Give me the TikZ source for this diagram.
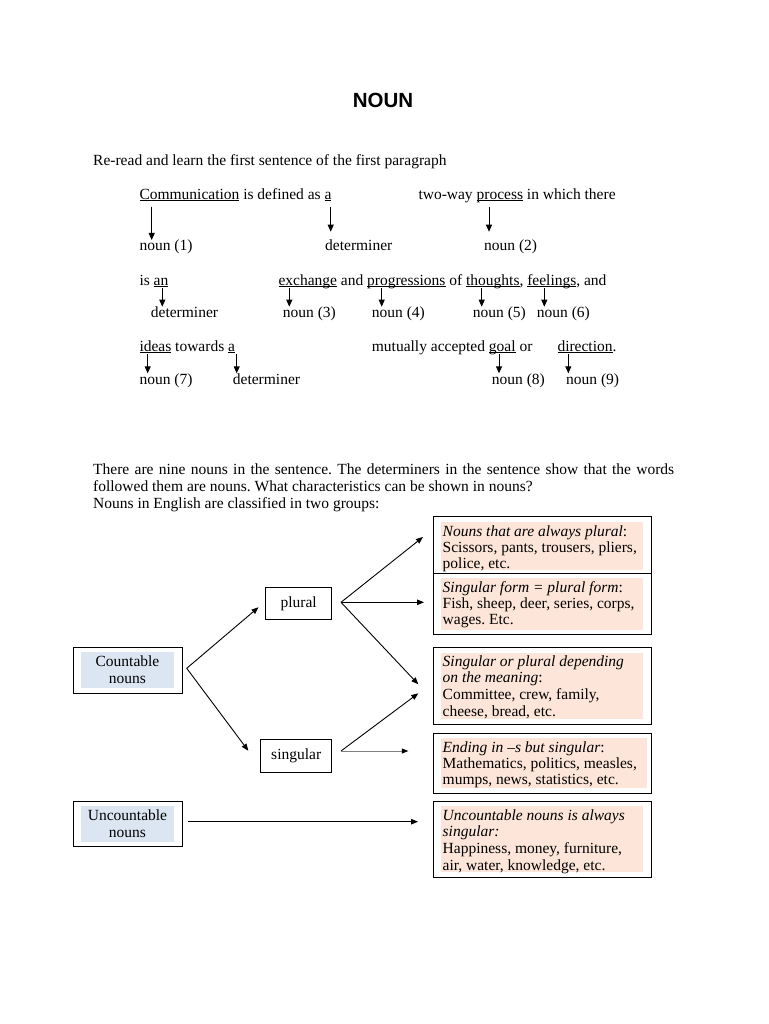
\documentclass[tikz,border=0pt]{standalone}
\usepackage{fontspec}
\setmainfont{Liberation Serif}
\newfontfamily\titlefont{Liberation Sans}
\usetikzlibrary{arrows.meta}
\definecolor{bluefill}{HTML}{DCE6F2}
\definecolor{peach}{HTML}{FDE6D9}
\newcommand\uw[1]{\underline{\smash{#1}}}
\frenchspacing
\begin{document}
\frenchspacing
\begin{tikzpicture}[x=1pt,y=-1pt,
  every node/.style={inner sep=0pt, font=\fontsize{15.5pt}{16.8pt}\selectfont\frenchspacing},
  txt/.style={anchor=base west},
  tarr/.style={-{Triangle[length=7pt,width=6pt]}, line width=0.9pt},
  darr/.style={-{Triangle[length=7pt,width=5.5pt]}, line width=0.9pt},
  garr/.style={-{Triangle[length=6.5pt,width=5pt,black]}, line width=0.8pt, black!50},
  boxn/.style={draw, line width=1pt, anchor=north west},
  smallbox/.style={draw, line width=1pt, align=center}
]
\fill[white] (0,0) rectangle (768,1024);
\useasboundingbox (0,0) rectangle (768,1024);

% title and intro
\node[font=\titlefont\bfseries\fontsize{20.5pt}{24pt}\selectfont, anchor=base] (title) at (383,108) {NOUN};
\node[txt] (intro) at (93,166) {Re-read and learn the first sentence of the first paragraph};

% row 1
\node[txt] (r1a) at (139.3,199.3) {\uw{Communication} is defined as \uw{a}};
\node[txt] (r1b) at (418.3,199.3) {two-way \uw{process} in which there};
\node[txt] (n1) at (139.3,250) {noun (1)};
\node[txt] (d1) at (325,250) {determiner};
\node[txt] (n2) at (484,250) {noun (2)};
\draw[tarr] (151.7,206.7) -- (151.7,240);
\draw[tarr] (330.7,206.7) -- (330.7,231.7);
\draw[tarr] (489,206.7) -- (489,231.7);

% row 2
\node[txt] (r2a) at (139.3,285) {is \uw{an}};
\node[txt] (r2b) at (278.3,285) {\uw{exchange} and \uw{progressions} of \uw{thoughts}, \uw{feelings}, and};
\node[txt] (d2) at (150.7,317.7) {determiner};
\node[txt] (n3) at (282.7,317.7) {noun (3)};
\node[txt] (n4) at (371.7,317.7) {noun (4)};
\node[txt] (n5) at (472.7,317.7) {noun (5)};
\node[txt] (n6) at (536.7,317.7) {noun (6)};
\foreach \x in {162.3,289.3,381.7,481.7,544.3}
  \draw[tarr] (\x,288) -- (\x,306.7);

% row 3
\node[txt] (r3a) at (139.3,351) {\uw{ideas} towards \uw{a}};
\node[txt] (r3b) at (371.7,351) {mutually accepted \uw{goal} or};
\node[txt] (r3c) at (557.3,351) {\uw{direction}.};
\node[txt] (n7) at (139.3,384.5) {noun (7)};
\node[txt] (d3) at (232.7,384.5) {determiner};
\node[txt] (n8) at (491.7,384.5) {noun (8)};
\node[txt] (n9) at (566,384.5) {noun (9)};
\foreach \x in {147.7,236.7,499,568.3}
  \draw[tarr] (\x,354) -- (\x,373.3);

% paragraph
\node[txt] (p1) at (93,474) {\makebox[581pt][s]{There are nine nouns in the sentence. The determiners in the sentence show that the words}};
\node[txt] (p2) at (93,491) {followed them are nouns. What characteristics can be shown in nouns?};
\node[txt] (p3) at (93,508) {Nouns in English are classified in two groups:};

% left boxes
\node[boxn, minimum width=109pt, minimum height=46pt] (cntbox) at (73.3,646.7) {};
\fill[bluefill] (80.7,651.7) rectangle (174.3,687.7);
\node[align=center] (cnt) at (127.5,669.5) {Countable\\nouns};
\node[boxn, minimum width=109.6pt, minimum height=45.3pt] (uncbox) at (72.7,800.7) {};
\fill[bluefill] (80.7,806) rectangle (174.3,842);
\node[align=center] (unc) at (127.5,823.5) {Uncountable\\nouns};

\node[smallbox, minimum width=66pt, minimum height=32pt] (plural) at (298.7,603.3) {plural};
\node[smallbox, minimum width=71pt, minimum height=33.3pt] (singular) at (296.2,755.7) {singular};

% right boxes
\node[boxn, minimum width=217.7pt, minimum height=56.7pt] (boxA) at (433.3,516) {};
\node[boxn, minimum width=217.7pt, minimum height=61.6pt] (boxB) at (433.3,572.7) {};
\node[boxn, minimum width=217.4pt, minimum height=77pt] (boxC) at (433.3,647.3) {};
\node[boxn, minimum width=217.4pt, minimum height=60.6pt] (boxD) at (433.3,732.7) {};
\node[boxn, minimum width=217.4pt, minimum height=76.6pt] (boxE) at (433.3,800.7) {};
\fill[peach] (440.7,521.7) rectangle (642.7,570);
\fill[peach] (440.7,578.3) rectangle (642.7,630);
\fill[peach] (440.7,652.7) rectangle (642.7,719.3);
\fill[peach] (440.7,737.7) rectangle (646.7,788.3);
\fill[peach] (440.7,805.7) rectangle (642.7,872.3);

\node[txt] (a1) at (442.5,536) {\textit{Nouns that are always plural}:};
\node[txt] (a2) at (442.5,552) {Scissors, pants, trousers, pliers,};
\node[txt] (a3) at (442.5,568) {police, etc.};
\node[txt] (b1) at (442.5,592) {\textit{Singular form = plural form}:};
\node[txt] (b2) at (442.5,608) {Fish, sheep, deer, series, corps,};
\node[txt] (b3) at (442.5,624) {wages. Etc.};
\node[txt] (c1) at (442.5,666.5) {\textit{Singular or plural depending}};
\node[txt] (c2) at (442.5,682.5) {\textit{on the meaning}:};
\node[txt] (c3) at (442.5,699.5) {Committee, crew, family,};
\node[txt] (c4) at (442.5,716) {cheese, bread, etc.};
\node[txt] (e1) at (442.5,752) {\textit{Ending in –s but singular}:};
\node[txt] (e2) at (442.5,768) {Mathematics, politics, measles,};
\node[txt] (e3) at (442.5,784.5) {mumps, news, statistics, etc.};
\node[txt] (f1) at (442.5,820) {\textit{Uncountable nouns is always}};
\node[txt] (f2) at (442.5,836.5) {\textit{singular:}};
\node[txt] (f3) at (442.5,853.5) {Happiness, money, furniture,};
\node[txt] (f4) at (442.5,870) {air, water, knowledge, etc.};

% connectors
\coordinate (cntO) at (186.7,668.3);
\coordinate (pluO) at (341,602.3);
\coordinate (sngO) at (341,751);
\coordinate (uncO) at (187.7,821.7);
\coordinate (tP) at (258.5,607.3);
\coordinate (tS) at (248.3,750.7);
\coordinate (tA) at (423,537);
\coordinate (tB) at (424,602.3);
\coordinate (tC1) at (418.3,684.3);
\coordinate (tC2) at (418.3,693.3);
\coordinate (tD) at (408.3,751);
\coordinate (tE) at (418,821.7);
\draw[darr] (cntO) -- (tP);
\draw[darr] (cntO) -- (tS);
\draw[darr] (pluO) -- (tA);
\draw[darr] (pluO) -- (tB);
\draw[darr] (pluO) -- (tC1);
\draw[darr] (sngO) -- (tC2);
\draw[garr] (sngO) -- (tD);
\draw[darr] (uncO) -- (tE);
\end{tikzpicture}
\end{document}
